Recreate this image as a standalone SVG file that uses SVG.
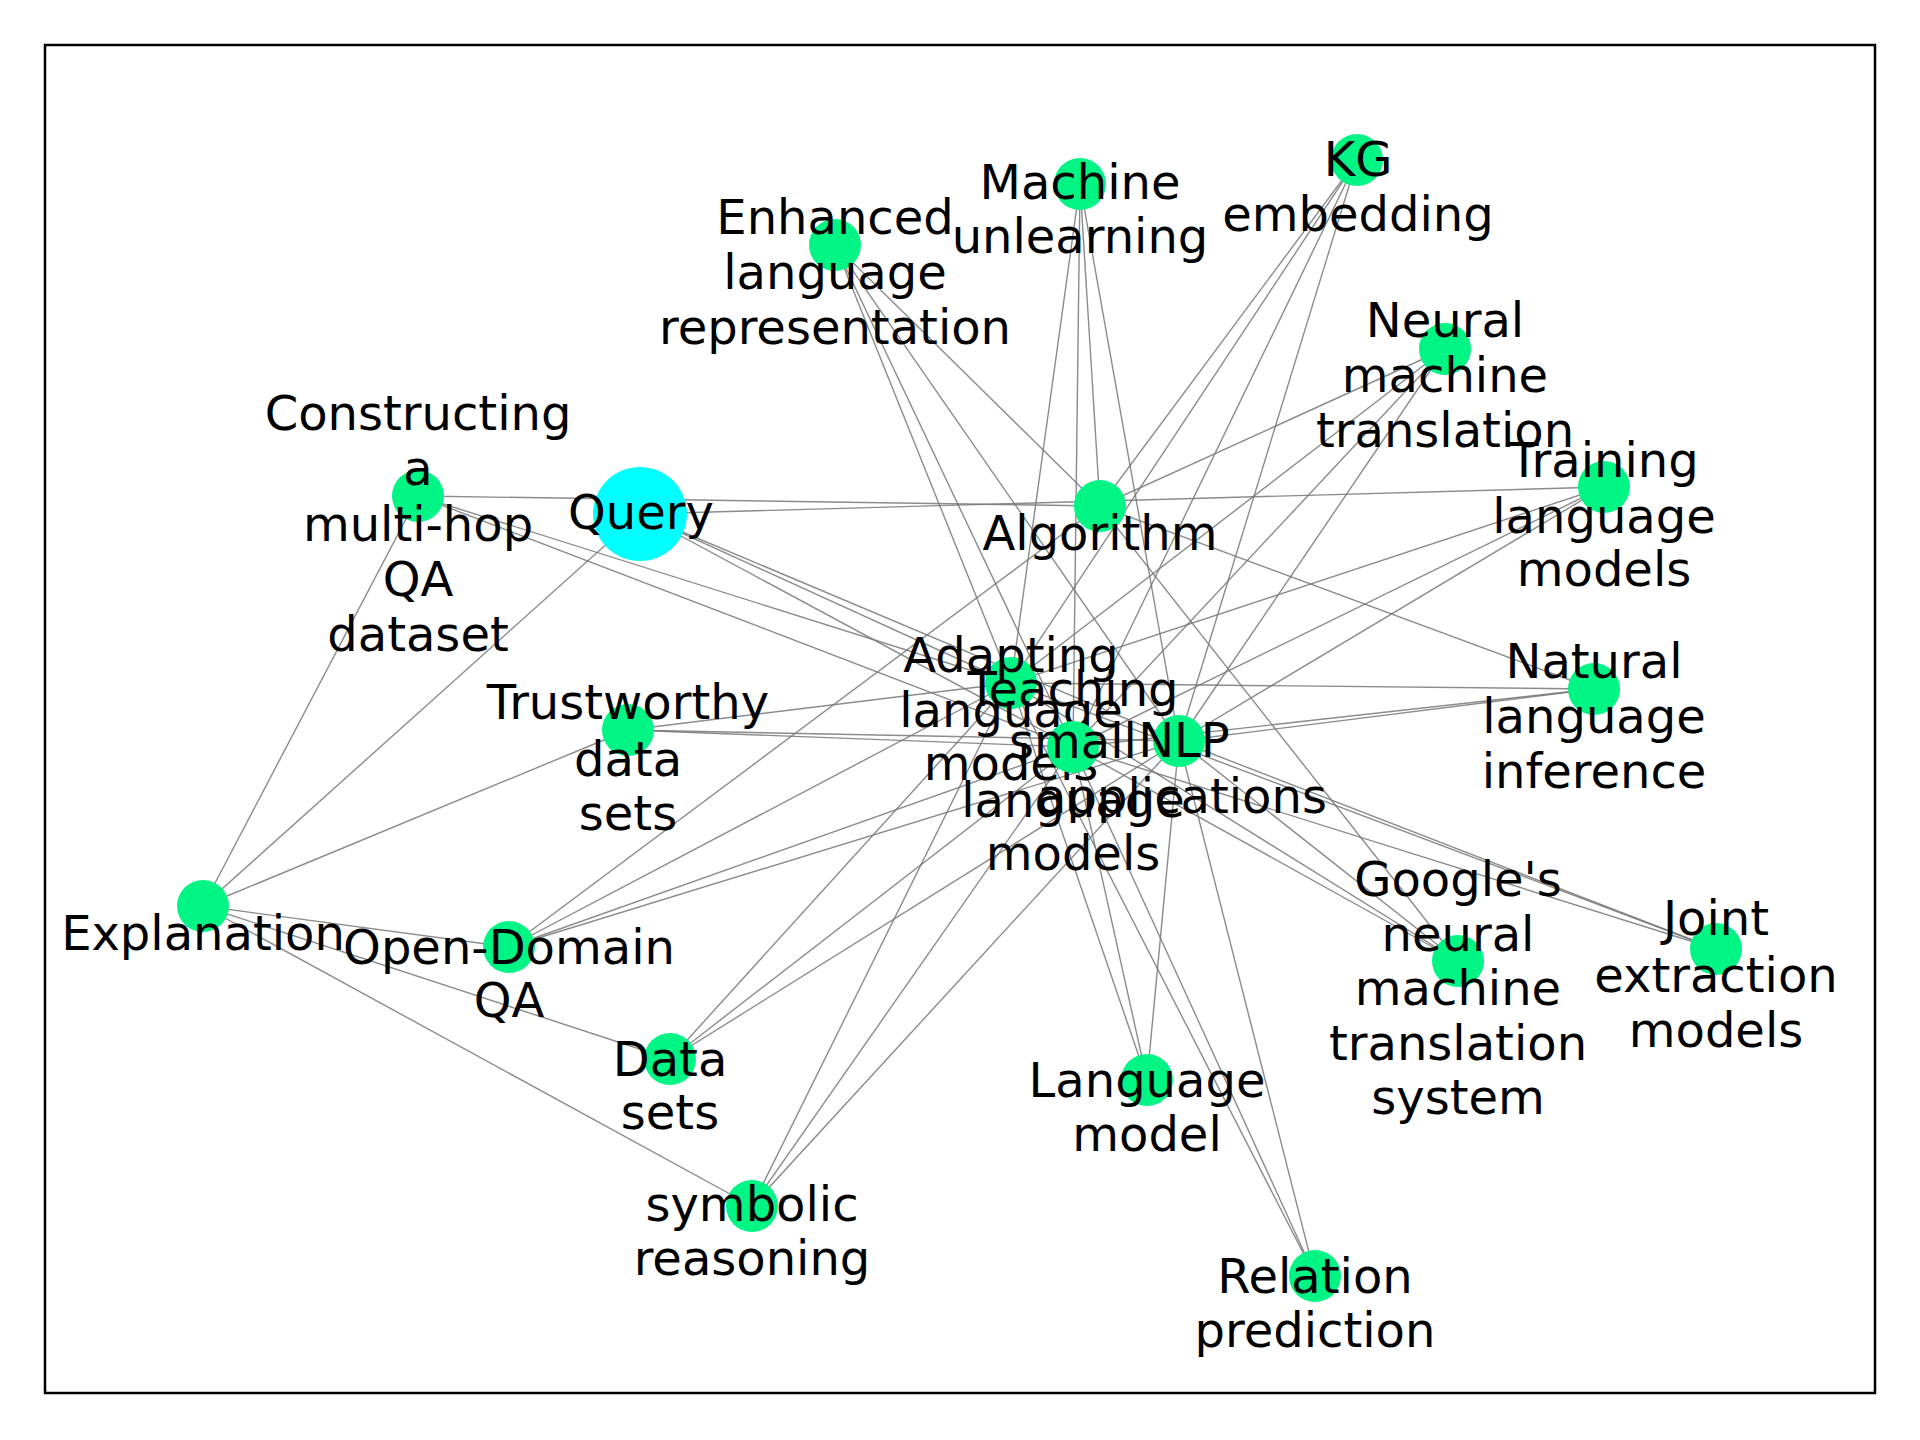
<svg xmlns="http://www.w3.org/2000/svg" width="1920" height="1440" viewBox="0 0 1920 1440">
<style>
.e{stroke:#777;stroke-opacity:0.85;stroke-width:1.4;fill:none}
.n{fill:#00f585}
.q{fill:#00ffff}
text{font-family:"DejaVu Sans",sans-serif;font-size:48px;fill:#000;text-anchor:middle;dominant-baseline:central}
</style>
<rect width="1920" height="1440" fill="#fff"/>
<rect x="45" y="45" width="1830" height="1348" fill="none" stroke="#000" stroke-width="2.5"/>
<g id="edges">
<line class="e" x1="418" y1="496" x2="1100" y2="506"/>
<line class="e" x1="640" y1="514" x2="1604" y2="487"/>
<line class="e" x1="418" y1="496" x2="1011" y2="683"/>
<line class="e" x1="418" y1="496" x2="1073" y2="747"/>
<line class="e" x1="418" y1="496" x2="203" y2="906"/>
<line class="e" x1="640" y1="514" x2="1011" y2="683"/>
<line class="e" x1="640" y1="514" x2="1073" y2="747"/>
<line class="e" x1="640" y1="514" x2="1179" y2="741"/>
<line class="e" x1="640" y1="514" x2="203" y2="906"/>
<line class="e" x1="203" y1="906" x2="628" y2="730"/>
<line class="e" x1="203" y1="906" x2="509" y2="947"/>
<line class="e" x1="203" y1="906" x2="670" y2="1059"/>
<line class="e" x1="203" y1="906" x2="752" y2="1206"/>
<line class="e" x1="628" y1="730" x2="1011" y2="683"/>
<line class="e" x1="628" y1="730" x2="1073" y2="747"/>
<line class="e" x1="628" y1="730" x2="1179" y2="741"/>
<line class="e" x1="509" y1="947" x2="1100" y2="506"/>
<line class="e" x1="509" y1="947" x2="1011" y2="683"/>
<line class="e" x1="509" y1="947" x2="1073" y2="747"/>
<line class="e" x1="509" y1="947" x2="1179" y2="741"/>
<line class="e" x1="670" y1="1059" x2="1011" y2="683"/>
<line class="e" x1="670" y1="1059" x2="1073" y2="747"/>
<line class="e" x1="670" y1="1059" x2="1179" y2="741"/>
<line class="e" x1="752" y1="1206" x2="1011" y2="683"/>
<line class="e" x1="752" y1="1206" x2="1073" y2="747"/>
<line class="e" x1="752" y1="1206" x2="1179" y2="741"/>
<line class="e" x1="1147" y1="1080" x2="1011" y2="683"/>
<line class="e" x1="1147" y1="1080" x2="1073" y2="747"/>
<line class="e" x1="1147" y1="1080" x2="1179" y2="741"/>
<line class="e" x1="1315" y1="1276" x2="1011" y2="683"/>
<line class="e" x1="1315" y1="1276" x2="1073" y2="747"/>
<line class="e" x1="1315" y1="1276" x2="1179" y2="741"/>
<line class="e" x1="1458" y1="961" x2="1011" y2="683"/>
<line class="e" x1="1458" y1="961" x2="1073" y2="747"/>
<line class="e" x1="1458" y1="961" x2="1179" y2="741"/>
<line class="e" x1="1458" y1="961" x2="1100" y2="506"/>
<line class="e" x1="1716" y1="949" x2="1011" y2="683"/>
<line class="e" x1="1716" y1="949" x2="1073" y2="747"/>
<line class="e" x1="1716" y1="949" x2="1179" y2="741"/>
<line class="e" x1="1594" y1="689" x2="1011" y2="683"/>
<line class="e" x1="1594" y1="689" x2="1073" y2="747"/>
<line class="e" x1="1594" y1="689" x2="1179" y2="741"/>
<line class="e" x1="1594" y1="689" x2="1100" y2="506"/>
<line class="e" x1="1604" y1="487" x2="1011" y2="683"/>
<line class="e" x1="1604" y1="487" x2="1073" y2="747"/>
<line class="e" x1="1604" y1="487" x2="1179" y2="741"/>
<line class="e" x1="1445" y1="349" x2="1100" y2="506"/>
<line class="e" x1="1445" y1="349" x2="1011" y2="683"/>
<line class="e" x1="1445" y1="349" x2="1073" y2="747"/>
<line class="e" x1="1445" y1="349" x2="1179" y2="741"/>
<line class="e" x1="1357" y1="160" x2="1100" y2="506"/>
<line class="e" x1="1357" y1="160" x2="1011" y2="683"/>
<line class="e" x1="1357" y1="160" x2="1073" y2="747"/>
<line class="e" x1="1357" y1="160" x2="1179" y2="741"/>
<line class="e" x1="1080" y1="184" x2="1100" y2="506"/>
<line class="e" x1="1080" y1="184" x2="1011" y2="683"/>
<line class="e" x1="1080" y1="184" x2="1073" y2="747"/>
<line class="e" x1="1080" y1="184" x2="1179" y2="741"/>
<line class="e" x1="835" y1="245" x2="1100" y2="506"/>
<line class="e" x1="835" y1="245" x2="1011" y2="683"/>
<line class="e" x1="835" y1="245" x2="1073" y2="747"/>
<line class="e" x1="835" y1="245" x2="1179" y2="741"/>
</g>
<g id="n-query"><circle class="q" cx="640" cy="514" r="47"/><text x="641" y="512">Query</text></g>
<g id="n-cons"><circle class="n" cx="418" cy="496" r="26"/><text x="418"><tspan x="418" y="413">Constructing</tspan><tspan x="418" y="468">a</tspan><tspan x="418" y="524">multi-hop</tspan><tspan x="418" y="579">QA</tspan><tspan x="418" y="634">dataset</tspan></text></g>
<g id="n-enh"><circle class="n" cx="835" cy="245" r="26"/><text><tspan x="835" y="217">Enhanced</tspan><tspan x="835" y="272">language</tspan><tspan x="835" y="327">representation</tspan></text></g>
<g id="n-mach"><circle class="n" cx="1080" cy="184" r="26"/><text><tspan x="1080" y="182">Machine</tspan><tspan x="1080" y="236">unlearning</tspan></text></g>
<g id="n-kg"><circle class="n" cx="1357" cy="160" r="26"/><text><tspan x="1358" y="159">KG</tspan><tspan x="1358" y="214">embedding</tspan></text></g>
<g id="n-nmt"><circle class="n" cx="1445" cy="349" r="26"/><text><tspan x="1445" y="320">Neural</tspan><tspan x="1445" y="375">machine</tspan><tspan x="1445" y="430">translation</tspan></text></g>
<g id="n-train"><circle class="n" cx="1604" cy="487" r="26"/><text><tspan x="1604" y="460">Training</tspan><tspan x="1604" y="516">language</tspan><tspan x="1604" y="569">models</tspan></text></g>
<g id="n-alg"><circle class="n" cx="1100" cy="506" r="26"/><text x="1100" y="533">Algorithm</text></g>
<g id="n-nli"><circle class="n" cx="1594" cy="689" r="26"/><text><tspan x="1594" y="661">Natural</tspan><tspan x="1594" y="716">language</tspan><tspan x="1594" y="771">inference</tspan></text></g>
<g id="n-adapt"><circle class="n" cx="1011" cy="683" r="26"/><text><tspan x="1011" y="655">Adapting</tspan><tspan x="1011" y="710">language</tspan><tspan x="1011" y="763">models</tspan></text></g>
<g id="n-teach"><circle class="n" cx="1073" cy="747" r="26"/><text><tspan x="1073" y="689">Teaching</tspan><tspan x="1073" y="741">small</tspan><tspan x="1073" y="800">language</tspan><tspan x="1073" y="853">models</tspan></text></g>
<g id="n-nlp"><circle class="n" cx="1179" cy="741" r="26"/><text><tspan x="1184" y="740">NLP</tspan><tspan x="1182" y="796">applications</tspan></text></g>
<g id="n-trust"><circle class="n" cx="628" cy="730" r="26"/><text><tspan x="628" y="702">Trustworthy</tspan><tspan x="628" y="759">data</tspan><tspan x="628" y="813">sets</tspan></text></g>
<g id="n-expl"><circle class="n" cx="203" cy="906" r="26"/><text x="203" y="933">Explanation</text></g>
<g id="n-odqa"><circle class="n" cx="509" cy="947" r="26"/><text><tspan x="509" y="947">Open-Domain</tspan><tspan x="509" y="1000">QA</tspan></text></g>
<g id="n-data"><circle class="n" cx="670" cy="1059" r="26"/><text><tspan x="670" y="1059">Data</tspan><tspan x="670" y="1112">sets</tspan></text></g>
<g id="n-sym"><circle class="n" cx="752" cy="1206" r="26"/><text><tspan x="752" y="1204">symbolic</tspan><tspan x="752" y="1258">reasoning</tspan></text></g>
<g id="n-lm"><circle class="n" cx="1147" cy="1080" r="26"/><text><tspan x="1147" y="1080">Language</tspan><tspan x="1147" y="1134">model</tspan></text></g>
<g id="n-rel"><circle class="n" cx="1315" cy="1276" r="26"/><text><tspan x="1315" y="1276">Relation</tspan><tspan x="1315" y="1330">prediction</tspan></text></g>
<g id="n-goog"><circle class="n" cx="1458" cy="961" r="26"/><text><tspan x="1458" y="879">Google's</tspan><tspan x="1458" y="934">neural</tspan><tspan x="1458" y="988">machine</tspan><tspan x="1458" y="1043">translation</tspan><tspan x="1458" y="1097">system</tspan></text></g>
<g id="n-joint"><circle class="n" cx="1716" cy="949" r="26"/><text><tspan x="1716" y="918">Joint</tspan><tspan x="1716" y="975">extraction</tspan><tspan x="1716" y="1030">models</tspan></text></g>
</svg>
